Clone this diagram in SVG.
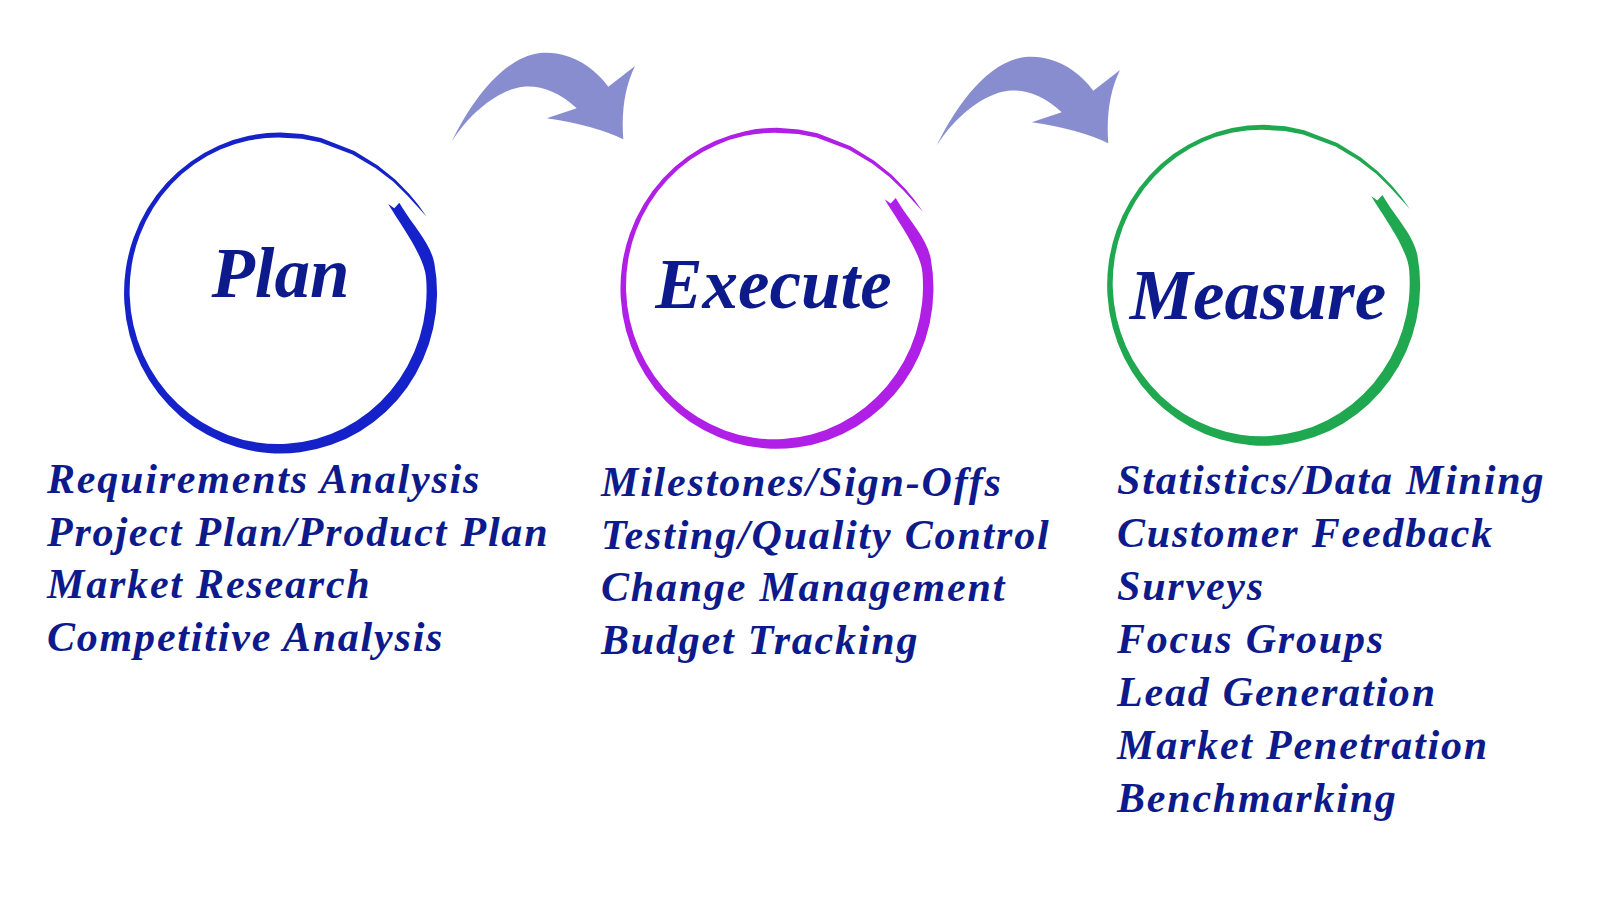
<svg xmlns="http://www.w3.org/2000/svg" xmlns:xlink="http://www.w3.org/1999/xlink" width="1600" height="906" viewBox="0 0 1600 906">
<style>
.title{font-family:"Liberation Serif","DejaVu Serif",serif;font-weight:bold;font-style:italic;font-size:71px;fill:#0d1a8c;text-anchor:middle}
.item{font-family:"Liberation Serif","DejaVu Serif",serif;font-weight:bold;font-style:italic;font-size:42px;letter-spacing:1.8px;fill:#0d1a8c}
.arrow{fill:#888dd0}
.plan{fill:#1522c9}
.execute{fill:#b01fe6}
.measure{fill:#1fa850}
</style>
<defs>
<path id="ring" d="M 122.1,-84.7 C 133,-67 150.2,-48.9 153.7,-30 A 156.5 160.5 0 1 1 0,-160.5 L 21.8,-158.9 L 40.5,-155 L 73.7,-142.1 L 97.2,-127.6 L 114.6,-113.5 L 128.5,-99.3 L 137.6,-88.2 L 146.1,-76.3 L 136.1,-87.2 L 126.5,-97.8 L 112.5,-111.4 L 95.1,-124.8 L 71.9,-138.6 L 39.4,-150.7 L 21.13,-154.2 L -2.5,-155.5 A 148.5 153.25 0 1 0 145.44,-15.61 C 143.5,-38.5 116,-74 107.7,-89 L 113.7,-84.7 L 118.7,-90.3 Z"/>
<path id="arrow" d="M 451.7,141.7 C 468,108 500,58 540,53 C 570,50 595,68 608.3,86.7 L 635,66 Q 620,96.7 623.3,139.3 Q 593.3,125 546.7,118.3 L 576.7,108.3 C 560,92 540,85 523.3,86.7 C 500,89 470,112 451.7,141.7 Z"/>
</defs>
<rect width="1600" height="906" fill="#ffffff"/>
<g id="connectors">
<use href="#arrow" class="arrow"/>
<use href="#arrow" class="arrow" transform="translate(485,4)"/>
</g>
<g id="node-plan">
<use href="#ring" class="plan" transform="translate(280.6,293)"/>
<text class="title" x="280.5" y="297">Plan</text>
<text class="item" x="47" y="493">Requirements Analysis</text>
<text class="item" x="47" y="545.5">Project Plan/Product Plan</text>
<text class="item" x="47" y="598">Market Research</text>
<text class="item" x="47" y="650.5">Competitive Analysis</text>
</g>
<g id="node-execute">
<use href="#ring" class="execute" transform="translate(777,288.3)"/>
<text class="title" x="773.5" y="308">Execute</text>
<text class="item" x="601" y="496">Milestones/Sign-Offs</text>
<text class="item" x="601" y="548.5">Testing/Quality Control</text>
<text class="item" x="601" y="601">Change Management</text>
<text class="item" x="601" y="653.5">Budget Tracking</text>
</g>
<g id="node-measure">
<use href="#ring" class="measure" transform="translate(1263.7,285.2)"/>
<text class="title" x="1258" y="318.5">Measure</text>
<text class="item" x="1117" y="494">Statistics/Data Mining</text>
<text class="item" x="1117" y="547">Customer Feedback</text>
<text class="item" x="1117" y="600">Surveys</text>
<text class="item" x="1117" y="653">Focus Groups</text>
<text class="item" x="1117" y="706">Lead Generation</text>
<text class="item" x="1117" y="759">Market Penetration</text>
<text class="item" x="1117" y="812">Benchmarking</text>
</g>
</svg>
